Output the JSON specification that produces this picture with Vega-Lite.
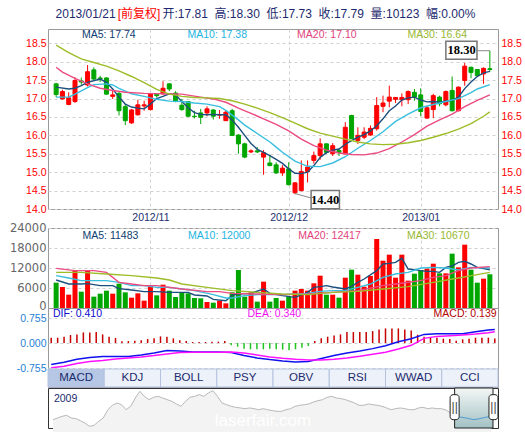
{
"$schema": "https://vega.github.io/schema/vega-lite/v6.json",
"background": "white",
"padding": {"left": 8, "top": 7, "right": 0, "bottom": 0},
"spacing": 0,
"bounds": "flush",
"resolve": {"scale": {"color": "independent"}},
"config": {
  "font": "Liberation Sans, Noto Sans CJK SC",
  "view": {"stroke": "#999", "strokeWidth": 1},
  "axis": {"labelFont": "Liberation Sans", "ticks": false, "domain": false, "gridColor": "#d0d0d0", "gridDash": [3, 3], "labelFontSize": 10.5}
},
"datasets": {
  "k": [
    {"i":0,"d":"2012-10-11","o":17.40,"h":17.43,"l":17.04,"c":17.11,"v":7600,"m":0.16},
    {"i":1,"d":"2012-10-12","o":16.99,"h":17.24,"l":16.97,"c":17.19,"v":6300,"m":0.16},
    {"i":2,"d":"2012-10-15","o":16.84,"h":17.17,"l":16.82,"c":17.02,"v":4000,"m":0.19},
    {"i":3,"d":"2012-10-16","o":16.92,"h":17.58,"l":16.88,"c":17.49,"v":11400,"m":0.24},
    {"i":4,"d":"2012-10-17","o":17.48,"h":17.57,"l":17.38,"c":17.45,"v":4900,"m":0.26},
    {"i":5,"d":"2012-10-18","o":17.37,"h":17.91,"l":17.33,"c":17.73,"v":11200,"m":0.32},
    {"i":6,"d":"2012-10-19","o":17.78,"h":17.85,"l":17.50,"c":17.53,"v":3400,"m":0.32},
    {"i":7,"d":"2012-10-22","o":17.56,"h":17.62,"l":17.45,"c":17.54,"v":4300,"m":0.33},
    {"i":8,"d":"2012-10-23","o":17.56,"h":17.58,"l":17.11,"c":17.12,"v":5200,"m":0.26},
    {"i":9,"d":"2012-10-24","o":17.06,"h":17.23,"l":16.99,"c":17.10,"v":4300,"m":0.19},
    {"i":10,"d":"2012-10-25","o":17.14,"h":17.18,"l":16.54,"c":16.67,"v":7300,"m":0.15},
    {"i":11,"d":"2012-10-26","o":16.78,"h":16.85,"l":16.28,"c":16.40,"v":4700,"m":0.05},
    {"i":12,"d":"2012-10-29","o":16.34,"h":16.72,"l":16.31,"c":16.69,"v":3100,"m":0.06},
    {"i":13,"d":"2012-10-30","o":16.56,"h":16.97,"l":16.54,"c":16.83,"v":4400,"m":0.07},
    {"i":14,"d":"2012-10-31","o":16.80,"h":16.94,"l":16.67,"c":16.83,"v":2200,"m":0.08},
    {"i":15,"d":"2012-11-01","o":16.70,"h":17.15,"l":16.68,"c":17.14,"v":6600,"m":0.12},
    {"i":16,"d":"2012-11-02","o":17.12,"h":17.15,"l":17.03,"c":17.08,"v":3800,"m":0.14},
    {"i":17,"d":"2012-11-05","o":17.13,"h":17.47,"l":17.10,"c":17.28,"v":7000,"m":0.20},
    {"i":18,"d":"2012-11-06","o":17.40,"h":17.42,"l":17.20,"c":17.26,"v":5200,"m":0.19},
    {"i":19,"d":"2012-11-07","o":17.15,"h":17.20,"l":16.90,"c":16.92,"v":3300,"m":0.14},
    {"i":20,"d":"2012-11-08","o":16.82,"h":16.99,"l":16.67,"c":16.70,"v":4700,"m":0.08},
    {"i":21,"d":"2012-11-09","o":16.92,"h":16.93,"l":16.50,"c":16.52,"v":4400,"m":0.06},
    {"i":22,"d":"2012-11-12","o":16.52,"h":16.67,"l":16.46,"c":16.51,"v":3000,"m":0.03},
    {"i":23,"d":"2012-11-13","o":16.61,"h":16.72,"l":16.31,"c":16.49,"v":2900,"m":0.03},
    {"i":24,"d":"2012-11-14","o":16.61,"h":16.79,"l":16.52,"c":16.72,"v":1800,"m":0.03},
    {"i":25,"d":"2012-11-15","o":16.69,"h":16.72,"l":16.43,"c":16.52,"v":1600,"m":0.04},
    {"i":26,"d":"2012-11-16","o":16.55,"h":16.69,"l":16.45,"c":16.56,"v":2200,"m":0.04},
    {"i":27,"d":"2012-11-19","o":16.40,"h":16.67,"l":16.39,"c":16.63,"v":1400,"m":0.06},
    {"i":28,"d":"2012-11-20","o":16.67,"h":16.72,"l":15.98,"c":16.00,"v":4700,"m":-0.07},
    {"i":29,"d":"2012-11-21","o":16.01,"h":16.03,"l":15.50,"c":15.77,"v":11400,"m":-0.11},
    {"i":30,"d":"2012-11-22","o":15.77,"h":15.80,"l":15.38,"c":15.41,"v":3400,"m":-0.17},
    {"i":31,"d":"2012-11-23","o":15.55,"h":15.62,"l":15.52,"c":15.58,"v":4700,"m":-0.19},
    {"i":32,"d":"2012-11-26","o":15.58,"h":15.68,"l":15.52,"c":15.55,"v":1900,"m":-0.19},
    {"i":33,"d":"2012-11-27","o":15.41,"h":15.60,"l":14.93,"c":15.53,"v":7900,"m":-0.19},
    {"i":34,"d":"2012-11-28","o":15.25,"h":15.47,"l":15.16,"c":15.18,"v":1900,"m":-0.17},
    {"i":35,"d":"2012-11-29","o":15.20,"h":15.27,"l":14.95,"c":14.98,"v":3000,"m":-0.19},
    {"i":36,"d":"2012-11-30","o":14.98,"h":15.19,"l":14.90,"c":15.11,"v":2200,"m":-0.20},
    {"i":37,"d":"2012-12-03","o":15.09,"h":15.27,"l":14.64,"c":14.66,"v":3400,"m":-0.22},
    {"i":38,"d":"2012-12-04","o":14.44,"h":14.73,"l":14.40,"c":14.71,"v":5200,"m":-0.19},
    {"i":39,"d":"2012-12-05","o":14.50,"h":15.32,"l":14.48,"c":15.02,"v":5700,"m":-0.14},
    {"i":40,"d":"2012-12-06","o":15.02,"h":15.32,"l":14.72,"c":15.14,"v":5200,"m":-0.09},
    {"i":41,"d":"2012-12-07","o":15.32,"h":15.56,"l":15.23,"c":15.45,"v":7400,"m":0.06},
    {"i":42,"d":"2012-12-10","o":15.45,"h":15.92,"l":15.34,"c":15.77,"v":9700,"m":0.14},
    {"i":43,"d":"2012-12-11","o":15.77,"h":15.78,"l":15.50,"c":15.54,"v":4000,"m":0.19},
    {"i":44,"d":"2012-12-12","o":15.50,"h":15.79,"l":15.44,"c":15.72,"v":4000,"m":0.23},
    {"i":45,"d":"2012-12-13","o":15.59,"h":15.63,"l":15.44,"c":15.54,"v":3100,"m":0.26},
    {"i":46,"d":"2012-12-14","o":15.50,"h":16.36,"l":15.48,"c":16.22,"v":9100,"m":0.33},
    {"i":47,"d":"2012-12-17","o":16.54,"h":16.56,"l":15.90,"c":15.91,"v":11500,"m":0.33},
    {"i":48,"d":"2012-12-18","o":15.86,"h":16.22,"l":15.77,"c":16.00,"v":10000,"m":0.33},
    {"i":49,"d":"2012-12-19","o":15.95,"h":16.22,"l":15.90,"c":16.09,"v":6400,"m":0.33},
    {"i":50,"d":"2012-12-20","o":16.01,"h":16.27,"l":15.99,"c":16.19,"v":9600,"m":0.36},
    {"i":51,"d":"2012-12-21","o":16.18,"h":17.04,"l":16.13,"c":16.81,"v":20700,"m":0.41},
    {"i":52,"d":"2012-12-24","o":16.79,"h":17.08,"l":16.63,"c":16.88,"v":14200,"m":0.44},
    {"i":53,"d":"2012-12-25","o":16.93,"h":17.35,"l":16.76,"c":17.04,"v":16000,"m":0.44},
    {"i":54,"d":"2012-12-26","o":16.98,"h":17.04,"l":16.88,"c":17.03,"v":9100,"m":0.44},
    {"i":55,"d":"2012-12-27","o":16.97,"h":17.14,"l":16.79,"c":17.03,"v":16000,"m":0.41},
    {"i":56,"d":"2012-12-28","o":16.97,"h":17.22,"l":16.85,"c":17.19,"v":8200,"m":0.38},
    {"i":57,"d":"2012-12-31","o":17.17,"h":17.26,"l":16.94,"c":17.04,"v":10300,"m":0.25},
    {"i":58,"d":"2013-01-04","o":17.10,"h":17.28,"l":16.52,"c":16.65,"v":11400,"m":0.19},
    {"i":59,"d":"2013-01-07","o":16.47,"h":16.81,"l":16.45,"c":16.75,"v":11800,"m":0.16},
    {"i":60,"d":"2013-01-08","o":16.70,"h":17.13,"l":16.47,"c":17.08,"v":13300,"m":0.16},
    {"i":61,"d":"2013-01-09","o":17.04,"h":17.08,"l":16.79,"c":16.86,"v":10400,"m":0.13},
    {"i":62,"d":"2013-01-10","o":16.83,"h":17.22,"l":16.79,"c":17.19,"v":10400,"m":0.12},
    {"i":63,"d":"2013-01-11","o":17.22,"h":17.60,"l":16.65,"c":16.67,"v":16300,"m":0.07},
    {"i":64,"d":"2013-01-14","o":16.67,"h":17.33,"l":16.65,"c":17.31,"v":12200,"m":0.11},
    {"i":65,"d":"2013-01-15","o":17.49,"h":17.97,"l":17.35,"c":17.88,"v":19000,"m":0.13},
    {"i":66,"d":"2013-01-16","o":17.85,"h":17.87,"l":17.55,"c":17.71,"v":11500,"m":0.16},
    {"i":67,"d":"2013-01-17","o":17.79,"h":17.80,"l":17.60,"c":17.62,"v":7600,"m":0.16},
    {"i":68,"d":"2013-01-18","o":17.67,"h":17.85,"l":17.40,"c":17.82,"v":8800,"m":0.16},
    {"i":69,"d":"2013-01-21","o":17.81,"h":18.30,"l":17.73,"c":17.79,"v":10123,"m":0.139}
  ],
  "pma": [
    {"i":0,"s":"MA5","v":17.31},{"i":2,"s":"MA5","v":17.26},{"i":3,"s":"MA5","v":17.28},{"i":4,"s":"MA5","v":17.35},{"i":5,"s":"MA5","v":17.44},{"i":7,"s":"MA5","v":17.53},{"i":8,"s":"MA5","v":17.44},{"i":9,"s":"MA5","v":17.26},{"i":10,"s":"MA5","v":17.04},{"i":11,"s":"MA5","v":16.85},{"i":12,"s":"MA5","v":16.77},{"i":13,"s":"MA5","v":16.74},{"i":14,"s":"MA5","v":16.72},{"i":15,"s":"MA5","v":16.85},{"i":16,"s":"MA5","v":17.0},{"i":17,"s":"MA5","v":17.06},{"i":18,"s":"MA5","v":17.13},{"i":19,"s":"MA5","v":17.10},{"i":20,"s":"MA5","v":16.92},{"i":21,"s":"MA5","v":16.75},{"i":22,"s":"MA5","v":16.62},{"i":23,"s":"MA5","v":16.57},{"i":24,"s":"MA5","v":16.56},{"i":25,"s":"MA5","v":16.57},{"i":26,"s":"MA5","v":16.56},{"i":27,"s":"MA5","v":16.56},{"i":28,"s":"MA5","v":16.42},{"i":29,"s":"MA5","v":16.22},{"i":30,"s":"MA5","v":16.0},{"i":31,"s":"MA5","v":15.78},{"i":32,"s":"MA5","v":15.62},{"i":33,"s":"MA5","v":15.54},{"i":34,"s":"MA5","v":15.45},{"i":35,"s":"MA5","v":15.35},{"i":36,"s":"MA5","v":15.24},{"i":37,"s":"MA5","v":15.09},{"i":38,"s":"MA5","v":14.97},{"i":39,"s":"MA5","v":14.96},{"i":40,"s":"MA5","v":15.0},{"i":41,"s":"MA5","v":15.18},{"i":42,"s":"MA5","v":15.40},{"i":43,"s":"MA5","v":15.53},{"i":44,"s":"MA5","v":15.60},{"i":45,"s":"MA5","v":15.63},{"i":46,"s":"MA5","v":15.76},{"i":47,"s":"MA5","v":15.86},{"i":48,"s":"MA5","v":15.95},{"i":49,"s":"MA5","v":16.02},{"i":50,"s":"MA5","v":16.12},{"i":51,"s":"MA5","v":16.26},{"i":52,"s":"MA5","v":16.45},{"i":53,"s":"MA5","v":16.67},{"i":54,"s":"MA5","v":16.80},{"i":55,"s":"MA5","v":16.96},{"i":56,"s":"MA5","v":17.02},{"i":57,"s":"MA5","v":17.04},{"i":58,"s":"MA5","v":16.96},{"i":59,"s":"MA5","v":16.91},{"i":60,"s":"MA5","v":16.92},{"i":61,"s":"MA5","v":16.90},{"i":62,"s":"MA5","v":16.93},{"i":63,"s":"MA5","v":16.95},{"i":64,"s":"MA5","v":17.04},{"i":65,"s":"MA5","v":17.27},{"i":66,"s":"MA5","v":17.45},{"i":67,"s":"MA5","v":17.6},{"i":68,"s":"MA5","v":17.7},{"i":69,"s":"MA5","v":17.74},
    {"i":0,"s":"MA10","v":17.04},{"i":2,"s":"MA10","v":17.04},{"i":3,"s":"MA10","v":17.12},{"i":5,"s":"MA10","v":17.30},{"i":6,"s":"MA10","v":17.38},{"i":8,"s":"MA10","v":17.40},{"i":9,"s":"MA10","v":17.37},{"i":10,"s":"MA10","v":17.28},{"i":11,"s":"MA10","v":17.20},{"i":12,"s":"MA10","v":17.13},{"i":14,"s":"MA10","v":17.06},{"i":16,"s":"MA10","v":16.98},{"i":18,"s":"MA10","v":16.93},{"i":20,"s":"MA10","v":16.92},{"i":22,"s":"MA10","v":16.88},{"i":24,"s":"MA10","v":16.85},{"i":26,"s":"MA10","v":16.78},{"i":27,"s":"MA10","v":16.68},{"i":28,"s":"MA10","v":16.55},{"i":29,"s":"MA10","v":16.42},{"i":30,"s":"MA10","v":16.28},{"i":32,"s":"MA10","v":16.05},{"i":34,"s":"MA10","v":15.82},{"i":35,"s":"MA10","v":15.68},{"i":36,"s":"MA10","v":15.54},{"i":38,"s":"MA10","v":15.3},{"i":40,"s":"MA10","v":15.16},{"i":42,"s":"MA10","v":15.15},{"i":44,"s":"MA10","v":15.25},{"i":46,"s":"MA10","v":15.42},{"i":48,"s":"MA10","v":15.65},{"i":50,"s":"MA10","v":15.86},{"i":52,"s":"MA10","v":16.1},{"i":54,"s":"MA10","v":16.38},{"i":56,"s":"MA10","v":16.58},{"i":58,"s":"MA10","v":16.75},{"i":60,"s":"MA10","v":16.84},{"i":62,"s":"MA10","v":16.92},{"i":64,"s":"MA10","v":17.0},{"i":66,"s":"MA10","v":17.16},{"i":67,"s":"MA10","v":17.26},{"i":69,"s":"MA10","v":17.38},
    {"i":0,"s":"MA20","v":17.85},{"i":1,"s":"MA20","v":17.72},{"i":3,"s":"MA20","v":17.55},{"i":5,"s":"MA20","v":17.40},{"i":7,"s":"MA20","v":17.28},{"i":9,"s":"MA20","v":17.22},{"i":11,"s":"MA20","v":17.17},{"i":14,"s":"MA20","v":17.14},{"i":17,"s":"MA20","v":17.13},{"i":20,"s":"MA20","v":17.12},{"i":23,"s":"MA20","v":17.04},{"i":25,"s":"MA20","v":16.99},{"i":27,"s":"MA20","v":16.9},{"i":29,"s":"MA20","v":16.74},{"i":31,"s":"MA20","v":16.6},{"i":33,"s":"MA20","v":16.45},{"i":35,"s":"MA20","v":16.3},{"i":37,"s":"MA20","v":16.12},{"i":39,"s":"MA20","v":15.9},{"i":41,"s":"MA20","v":15.72},{"i":43,"s":"MA20","v":15.6},{"i":45,"s":"MA20","v":15.52},{"i":47,"s":"MA20","v":15.48},{"i":49,"s":"MA20","v":15.47},{"i":51,"s":"MA20","v":15.52},{"i":53,"s":"MA20","v":15.64},{"i":55,"s":"MA20","v":15.82},{"i":57,"s":"MA20","v":16.02},{"i":59,"s":"MA20","v":16.25},{"i":61,"s":"MA20","v":16.42},{"i":63,"s":"MA20","v":16.58},{"i":65,"s":"MA20","v":16.78},{"i":67,"s":"MA20","v":16.95},{"i":69,"s":"MA20","v":17.10},
    {"i":0,"s":"MA30","v":18.45},{"i":2,"s":"MA30","v":18.25},{"i":4,"s":"MA30","v":18.08},{"i":6,"s":"MA30","v":17.98},{"i":8,"s":"MA30","v":17.88},{"i":10,"s":"MA30","v":17.75},{"i":12,"s":"MA30","v":17.6},{"i":14,"s":"MA30","v":17.43},{"i":16,"s":"MA30","v":17.25},{"i":18,"s":"MA30","v":17.12},{"i":20,"s":"MA30","v":17.06},{"i":22,"s":"MA30","v":17.03},{"i":24,"s":"MA30","v":17.02},{"i":26,"s":"MA30","v":17.0},{"i":28,"s":"MA30","v":16.94},{"i":30,"s":"MA30","v":16.85},{"i":32,"s":"MA30","v":16.74},{"i":34,"s":"MA30","v":16.62},{"i":36,"s":"MA30","v":16.48},{"i":38,"s":"MA30","v":16.33},{"i":40,"s":"MA30","v":16.18},{"i":42,"s":"MA30","v":16.06},{"i":44,"s":"MA30","v":15.98},{"i":46,"s":"MA30","v":15.9},{"i":48,"s":"MA30","v":15.82},{"i":50,"s":"MA30","v":15.77},{"i":52,"s":"MA30","v":15.75},{"i":54,"s":"MA30","v":15.76},{"i":56,"s":"MA30","v":15.8},{"i":58,"s":"MA30","v":15.86},{"i":60,"s":"MA30","v":15.95},{"i":62,"s":"MA30","v":16.05},{"i":64,"s":"MA30","v":16.17},{"i":66,"s":"MA30","v":16.32},{"i":68,"s":"MA30","v":16.52},{"i":69,"s":"MA30","v":16.64}
  ],
  "vma": [
    {"i":0,"s":"MA5","v":8400},{"i":2,"s":"MA5","v":7200},{"i":4,"s":"MA5","v":7200},{"i":5,"s":"MA5","v":7300},{"i":7,"s":"MA5","v":6700},{"i":9,"s":"MA5","v":6700},{"i":10,"s":"MA5","v":5800},{"i":12,"s":"MA5","v":5400},{"i":14,"s":"MA5","v":4900},{"i":16,"s":"MA5","v":4900},{"i":18,"s":"MA5","v":4700},{"i":21,"s":"MA5","v":4700},{"i":22,"s":"MA5","v":3900},{"i":24,"s":"MA5","v":3600},{"i":25,"s":"MA5","v":2600},{"i":27,"s":"MA5","v":2200},{"i":28,"s":"MA5","v":3800},{"i":29,"s":"MA5","v":4200},{"i":31,"s":"MA5","v":4400},{"i":33,"s":"MA5","v":5700},{"i":34,"s":"MA5","v":4400},{"i":36,"s":"MA5","v":3700},{"i":38,"s":"MA5","v":3200},{"i":40,"s":"MA5","v":4700},{"i":41,"s":"MA5","v":6200},{"i":42,"s":"MA5","v":6400},{"i":43,"s":"MA5","v":6700},{"i":44,"s":"MA5","v":6300},{"i":45,"s":"MA5","v":6000},{"i":46,"s":"MA5","v":5700},{"i":47,"s":"MA5","v":6500},{"i":48,"s":"MA5","v":7700},{"i":49,"s":"MA5","v":8700},{"i":51,"s":"MA5","v":11200},{"i":52,"s":"MA5","v":13200},{"i":53,"s":"MA5","v":13400},{"i":54,"s":"MA5","v":13700},{"i":55,"s":"MA5","v":14900},{"i":56,"s":"MA5","v":11700},{"i":57,"s":"MA5","v":11500},{"i":58,"s":"MA5","v":11200},{"i":59,"s":"MA5","v":11000},{"i":60,"s":"MA5","v":11000},{"i":61,"s":"MA5","v":10700},{"i":62,"s":"MA5","v":12200},{"i":63,"s":"MA5","v":12600},{"i":64,"s":"MA5","v":13700},{"i":65,"s":"MA5","v":14000},{"i":66,"s":"MA5","v":13200},{"i":67,"s":"MA5","v":12200},{"i":69,"s":"MA5","v":11483},
    {"i":0,"s":"MA10","v":9700},{"i":2,"s":"MA10","v":9000},{"i":4,"s":"MA10","v":8200},{"i":8,"s":"MA10","v":8200},{"i":10,"s":"MA10","v":7700},{"i":12,"s":"MA10","v":6700},{"i":14,"s":"MA10","v":6700},{"i":16,"s":"MA10","v":6200},{"i":18,"s":"MA10","v":6200},{"i":20,"s":"MA10","v":5700},{"i":22,"s":"MA10","v":5200},{"i":25,"s":"MA10","v":4000},{"i":27,"s":"MA10","v":3000},{"i":28,"s":"MA10","v":3000},{"i":30,"s":"MA10","v":3700},{"i":32,"s":"MA10","v":4000},{"i":36,"s":"MA10","v":4000},{"i":38,"s":"MA10","v":4200},{"i":40,"s":"MA10","v":4400},{"i":42,"s":"MA10","v":5000},{"i":44,"s":"MA10","v":5200},{"i":46,"s":"MA10","v":5200},{"i":48,"s":"MA10","v":6200},{"i":50,"s":"MA10","v":7200},{"i":52,"s":"MA10","v":9200},{"i":54,"s":"MA10","v":10200},{"i":56,"s":"MA10","v":10700},{"i":58,"s":"MA10","v":12000},{"i":60,"s":"MA10","v":12200},{"i":62,"s":"MA10","v":12000},{"i":64,"s":"MA10","v":11400},{"i":66,"s":"MA10","v":12200},{"i":69,"s":"MA10","v":12000},
    {"i":0,"s":"MA20","v":11900},{"i":3,"s":"MA20","v":11200},{"i":6,"s":"MA20","v":11200},{"i":8,"s":"MA20","v":10700},{"i":10,"s":"MA20","v":7700},{"i":12,"s":"MA20","v":7200},{"i":14,"s":"MA20","v":6700},{"i":16,"s":"MA20","v":6700},{"i":20,"s":"MA20","v":5700},{"i":24,"s":"MA20","v":4900},{"i":26,"s":"MA20","v":4900},{"i":28,"s":"MA20","v":4400},{"i":32,"s":"MA20","v":4200},{"i":36,"s":"MA20","v":4000},{"i":40,"s":"MA20","v":4200},{"i":44,"s":"MA20","v":4700},{"i":48,"s":"MA20","v":5200},{"i":52,"s":"MA20","v":6700},{"i":54,"s":"MA20","v":7200},{"i":58,"s":"MA20","v":8200},{"i":60,"s":"MA20","v":9200},{"i":62,"s":"MA20","v":9700},{"i":64,"s":"MA20","v":11200},{"i":66,"s":"MA20","v":12000},{"i":69,"s":"MA20","v":12417},
    {"i":0,"s":"MA30","v":10700},{"i":4,"s":"MA30","v":10700},{"i":8,"s":"MA30","v":10200},{"i":12,"s":"MA30","v":9700},{"i":16,"s":"MA30","v":9000},{"i":18,"s":"MA30","v":8400},{"i":20,"s":"MA30","v":7200},{"i":24,"s":"MA30","v":6200},{"i":28,"s":"MA30","v":5200},{"i":32,"s":"MA30","v":4700},{"i":36,"s":"MA30","v":4200},{"i":40,"s":"MA30","v":4000},{"i":44,"s":"MA30","v":4700},{"i":48,"s":"MA30","v":5000},{"i":52,"s":"MA30","v":5700},{"i":56,"s":"MA30","v":6400},{"i":60,"s":"MA30","v":7700},{"i":64,"s":"MA30","v":9000},{"i":67,"s":"MA30","v":10000},{"i":69,"s":"MA30","v":10670}
  ],
  "mac": [
    {"i":0,"s":"DIF","v":-0.65},{"i":2,"s":"DIF","v":-0.58},{"i":4,"s":"DIF","v":-0.49},{"i":6,"s":"DIF","v":-0.44},{"i":8,"s":"DIF","v":-0.41},{"i":10,"s":"DIF","v":-0.41},{"i":12,"s":"DIF","v":-0.41},{"i":14,"s":"DIF","v":-0.36},{"i":16,"s":"DIF","v":-0.30},{"i":18,"s":"DIF","v":-0.23},{"i":20,"s":"DIF","v":-0.24},{"i":22,"s":"DIF","v":-0.27},{"i":24,"s":"DIF","v":-0.27},{"i":26,"s":"DIF","v":-0.27},{"i":28,"s":"DIF","v":-0.29},{"i":30,"s":"DIF","v":-0.38},{"i":32,"s":"DIF","v":-0.45},{"i":34,"s":"DIF","v":-0.50},{"i":36,"s":"DIF","v":-0.54},{"i":38,"s":"DIF","v":-0.57},{"i":40,"s":"DIF","v":-0.56},{"i":42,"s":"DIF","v":-0.47},{"i":44,"s":"DIF","v":-0.38},{"i":46,"s":"DIF","v":-0.30},{"i":48,"s":"DIF","v":-0.24},{"i":50,"s":"DIF","v":-0.17},{"i":52,"s":"DIF","v":-0.08},{"i":54,"s":"DIF","v":0.04},{"i":56,"s":"DIF","v":0.13},{"i":58,"s":"DIF","v":0.26},{"i":60,"s":"DIF","v":0.28},{"i":62,"s":"DIF","v":0.28},{"i":64,"s":"DIF","v":0.28},{"i":66,"s":"DIF","v":0.34},{"i":68,"s":"DIF","v":0.39},{"i":69,"s":"DIF","v":0.41},
    {"i":0,"s":"DEA","v":-0.75},{"i":2,"s":"DEA","v":-0.70},{"i":4,"s":"DEA","v":-0.62},{"i":6,"s":"DEA","v":-0.56},{"i":8,"s":"DEA","v":-0.53},{"i":10,"s":"DEA","v":-0.48},{"i":12,"s":"DEA","v":-0.45},{"i":14,"s":"DEA","v":-0.42},{"i":16,"s":"DEA","v":-0.38},{"i":18,"s":"DEA","v":-0.33},{"i":20,"s":"DEA","v":-0.29},{"i":22,"s":"DEA","v":-0.28},{"i":24,"s":"DEA","v":-0.28},{"i":26,"s":"DEA","v":-0.28},{"i":28,"s":"DEA","v":-0.27},{"i":30,"s":"DEA","v":-0.30},{"i":32,"s":"DEA","v":-0.36},{"i":34,"s":"DEA","v":-0.42},{"i":36,"s":"DEA","v":-0.46},{"i":38,"s":"DEA","v":-0.49},{"i":40,"s":"DEA","v":-0.51},{"i":42,"s":"DEA","v":-0.51},{"i":44,"s":"DEA","v":-0.49},{"i":46,"s":"DEA","v":-0.45},{"i":48,"s":"DEA","v":-0.40},{"i":50,"s":"DEA","v":-0.34},{"i":52,"s":"DEA","v":-0.28},{"i":54,"s":"DEA","v":-0.18},{"i":56,"s":"DEA","v":-0.07},{"i":58,"s":"DEA","v":0.14},{"i":60,"s":"DEA","v":0.20},{"i":62,"s":"DEA","v":0.22},{"i":64,"s":"DEA","v":0.24},{"i":66,"s":"DEA","v":0.27},{"i":68,"s":"DEA","v":0.31},{"i":69,"s":"DEA","v":0.34}
  ],
  "tabs": [{"tab":"MACD"},{"tab":"KDJ"},{"tab":"BOLL"},{"tab":"PSY"},{"tab":"OBV"},{"tab":"RSI"},{"tab":"WWAD"},{"tab":"CCI"}],
  "nav": [
    {"n":0,"p":14.6},{"n":1,"p":16.2},{"n":2,"p":17.8},{"n":3,"p":18.8},{"n":4,"p":16.2},{"n":5,"p":15.6},{"n":6,"p":13.6},{"n":7,"p":11.3},{"n":8,"p":8.1},{"n":9,"p":9.1},{"n":10,"p":13.0},{"n":11,"p":16.2},{"n":12,"p":24.3},{"n":13,"p":28.6},{"n":14,"p":30.8},{"n":15,"p":29.2},{"n":16,"p":24.3},{"n":17,"p":27.6},{"n":18,"p":35.7},{"n":19,"p":42.2},{"n":20,"p":37.3},{"n":21,"p":34.1},{"n":22,"p":36.4},{"n":23,"p":37.3},{"n":24,"p":35.7},{"n":25,"p":34.1},{"n":26,"p":32.5},{"n":27,"p":29.9},{"n":28,"p":27.6},{"n":29,"p":32.5},{"n":30,"p":36.4},{"n":31,"p":37.3},{"n":32,"p":39.0},{"n":33,"p":37.3},{"n":34,"p":40.6},{"n":35,"p":42.9},{"n":36,"p":37.3},{"n":37,"p":30.8},{"n":38,"p":29.2},{"n":39,"p":27.6},{"n":40,"p":26.6},{"n":41,"p":26.0},{"n":42,"p":25.3},{"n":43,"p":26.0},{"n":44,"p":25.3},{"n":45,"p":24.3},{"n":46,"p":25.3},{"n":47,"p":24.3},{"n":48,"p":23.4},{"n":49,"p":22.7},{"n":50,"p":22.7},{"n":51,"p":24.3},{"n":52,"p":25.3},{"n":53,"p":27.6},{"n":54,"p":28.6},{"n":55,"p":29.2},{"n":56,"p":29.9},{"n":57,"p":31.8},{"n":58,"p":33.1},{"n":59,"p":34.1},{"n":60,"p":36.4},{"n":61,"p":37.3},{"n":62,"p":35.7},{"n":63,"p":35.1},{"n":64,"p":34.1},{"n":65,"p":32.5},{"n":66,"p":30.8},{"n":67,"p":28.6},{"n":68,"p":28.6},{"n":69,"p":29.9},{"n":70,"p":29.2},{"n":71,"p":28.6},{"n":72,"p":27.6},{"n":73,"p":26.0},{"n":74,"p":24.3},{"n":75,"p":25.3},{"n":76,"p":26.0},{"n":77,"p":25.3},{"n":78,"p":24.3},{"n":79,"p":24.3},{"n":80,"p":26.0},{"n":81,"p":26.6},{"n":82,"p":25.3},{"n":83,"p":26.0},{"n":84,"p":25.3},{"n":85,"p":25.3},{"n":86,"p":24.0},{"n":87,"p":21.1},{"n":88,"p":17.8},{"n":89,"p":17.2},{"n":90,"p":16.5},{"n":91,"p":15.6},{"n":92,"p":14.6},{"n":93,"p":15.2},{"n":94,"p":16.2},{"n":95,"p":17.2},{"n":96,"p":17.8}
  ]
},
"vconcat": [
  {
    "width": 450, "height": 180,
    "resolve": {"axis": {"x": "independent", "y": "independent"}},
    "layer": [
      {
        "data": {"name": "k"},
        "mark": {"type": "rule", "strokeWidth": 1},
        "encoding": {
          "x": {"field": "i", "type": "quantitative", "scale": {"domain": [-0.5, 69.5], "nice": false, "zero": false},
                "axis": {"title": null, "values": [15, 37, 58], "labelExpr": "datum.value == 15 ? '2012/11' : (datum.value == 37 ? '2012/12' : '2013/01')", "grid": true, "labelColor": "#1b2f6e", "labelFontSize": 10.5, "labelPadding": 3}},
          "y": {"field": "l", "type": "quantitative", "scale": {"domain": [14, 18.89], "nice": false, "zero": false},
                "axis": {"title": null, "orient": "right", "values": [14, 14.5, 15, 15.5, 16, 16.5, 17, 17.5, 18, 18.5], "format": ".1f", "grid": false, "labelColor": "#ff0000", "labelFontSize": 10.5, "labelPadding": 3}},
          "y2": {"field": "h"},
          "color": {"condition": {"test": "datum.c >= datum.o", "value": "#ff0000"}, "value": "#00a600"}
        }
      },
      {
        "data": {"name": "k"},
        "mark": {"type": "bar", "orient": "vertical", "size": 4, "strokeWidth": 1},
        "encoding": {
          "x": {"field": "i", "type": "quantitative", "axis": null},
          "y": {"field": "o", "type": "quantitative",
                "axis": {"title": null, "orient": "left", "values": [14, 14.5, 15, 15.5, 16, 16.5, 17, 17.5, 18, 18.5], "format": ".1f", "grid": true, "labelColor": "#ff0000", "labelFontSize": 10.5, "labelPadding": 2}},
          "y2": {"field": "c"},
          "color": {"condition": {"test": "datum.c >= datum.o", "value": "#ff0000"}, "value": "#00a600"},
          "stroke": {"condition": {"test": "datum.c >= datum.o", "value": "#ff0000"}, "value": "#00a600"}
        }
      },
      {
        "data": {"name": "pma"},
        "mark": {"type": "line", "strokeWidth": 1.4},
        "encoding": {
          "x": {"field": "i", "type": "quantitative", "axis": null},
          "y": {"field": "v", "type": "quantitative", "axis": null},
          "color": {"field": "s", "type": "nominal", "scale": {"domain": ["MA5", "MA10", "MA20", "MA30"], "range": ["#1b4f7d", "#38bfe0", "#ec4b82", "#9dbd28"]}, "legend": null}
        }
      },
      {
        "data": {"values": [{}]},
        "mark": {"type": "rect", "fill": "white", "stroke": "#777", "strokeWidth": 1.5},
        "encoding": {"x": {"datum": 40.56, "type": "quantitative", "axis": null}, "x2": {"datum": 45.07}, "y": {"datum": 14.5, "type": "quantitative", "axis": null}, "y2": {"datum": 14.01}}
      },
      {
        "data": {"values": [{}]},
        "mark": {"type": "rule", "color": "#888", "strokeWidth": 1},
        "encoding": {"x": {"datum": 38, "type": "quantitative", "axis": null}, "x2": {"datum": 40.56}, "y": {"datum": 14.42, "type": "quantitative", "axis": null}, "y2": {"datum": 14.3}}
      },
      {
        "data": {"values": [{}]},
        "mark": {"type": "text", "font": "Liberation Serif", "fontWeight": "bold", "fontSize": 12.5, "color": "black"},
        "encoding": {"x": {"datum": 42.8, "type": "quantitative", "axis": null}, "y": {"datum": 14.25, "type": "quantitative", "axis": null}, "text": {"value": "14.40"}}
      },
      {
        "data": {"values": [{}]},
        "mark": {"type": "rect", "fill": "white", "stroke": "#777", "strokeWidth": 1.5},
        "encoding": {"x": {"datum": 62.0, "type": "quantitative", "axis": null}, "x2": {"datum": 66.95}, "y": {"datum": 18.56, "type": "quantitative", "axis": null}, "y2": {"datum": 18.07}}
      },
      {
        "data": {"values": [{}]},
        "mark": {"type": "rule", "color": "#888", "strokeWidth": 1},
        "encoding": {"x": {"datum": 66.95, "type": "quantitative", "axis": null}, "x2": {"datum": 69}, "y": {"datum": 18.3, "type": "quantitative", "axis": null}}
      },
      {
        "data": {"values": [{}]},
        "mark": {"type": "text", "font": "Liberation Serif", "fontWeight": "bold", "fontSize": 12.5, "color": "black"},
        "encoding": {"x": {"datum": 64.5, "type": "quantitative", "axis": null}, "y": {"datum": 18.31, "type": "quantitative", "axis": null}, "text": {"value": "18.30"}}
      },
      {
        "data": {"values": [{}]},
        "mark": {"type": "text", "fontSize": 10.5, "color": "#0d3d73"},
        "encoding": {"x": {"datum": 8.37, "type": "quantitative", "axis": null}, "y": {"datum": 18.72, "type": "quantitative", "axis": null}, "text": {"value": "MA5: 17.74"}}
      },
      {
        "data": {"values": [{}]},
        "mark": {"type": "text", "fontSize": 10.5, "color": "#22b4e2"},
        "encoding": {"x": {"datum": 25.63, "type": "quantitative", "axis": null}, "y": {"datum": 18.72, "type": "quantitative", "axis": null}, "text": {"value": "MA10: 17.38"}}
      },
      {
        "data": {"values": [{}]},
        "mark": {"type": "text", "fontSize": 10.5, "color": "#e2427c"},
        "encoding": {"x": {"datum": 43.06, "type": "quantitative", "axis": null}, "y": {"datum": 18.72, "type": "quantitative", "axis": null}, "text": {"value": "MA20: 17.10"}}
      },
      {
        "data": {"values": [{}]},
        "mark": {"type": "text", "fontSize": 10.5, "color": "#98b830"},
        "encoding": {"x": {"datum": 60.63, "type": "quantitative", "axis": null}, "y": {"datum": 18.72, "type": "quantitative", "axis": null}, "text": {"value": "MA30: 16.64"}}
      },
      {
        "data": {"values": [{}]},
        "mark": {"type": "text", "align": "right", "fontSize": 12, "color": "#1c2a6e"},
        "encoding": {"x": {"datum": 9.46, "type": "quantitative", "axis": null}, "y": {"datum": 19.29, "type": "quantitative", "axis": null}, "text": {"value": "2013/01/21"}}
      },
      {
        "data": {"values": [{}]},
        "mark": {"type": "text", "align": "center", "fontSize": 12, "color": "#ff0000"},
        "encoding": {"x": {"datum": 13.19, "type": "quantitative", "axis": null}, "y": {"datum": 19.29, "type": "quantitative", "axis": null}, "text": {"value": "[前复权]"}}
      },
      {
        "data": {"values": [{}]},
        "mark": {"type": "text", "align": "left", "fontSize": 12, "color": "#1c2a6e"},
        "encoding": {"x": {"datum": 16.92, "type": "quantitative", "axis": null}, "y": {"datum": 19.29, "type": "quantitative", "axis": null}, "text": {"value": "开:17.81\u00a0\u00a0高:18.30\u00a0\u00a0低:17.73\u00a0\u00a0收:17.79\u00a0\u00a0量:10123\u00a0\u00a0幅:0.00%"}}
      }
    ]
  },
  {
    "width": 450, "height": 19,
    "view": {"stroke": null},
    "data": {"values": [{}]},
    "mark": {"type": "text", "text": ""},
    "encoding": {}
  },
  {
    "width": 450, "height": 80,
    "resolve": {"axis": {"x": "independent", "y": "independent"}},
    "layer": [
      {
        "data": {"name": "k"},
        "mark": {"type": "bar", "orient": "vertical", "size": 5},
        "encoding": {
          "x": {"field": "i", "type": "quantitative", "scale": {"domain": [-0.5, 69.5], "nice": false, "zero": false},
                "axis": {"title": null, "values": [15, 37, 58], "labels": false, "grid": true}},
          "y": {"field": "v", "type": "quantitative", "scale": {"domain": [0, 24000], "nice": false},
                "axis": {"title": null, "orient": "left", "values": [0, 6000, 12000, 18000, 24000], "format": "d", "labelColor": "#666", "labelFont": "DejaVu Sans", "labelFontSize": 11.5, "labelPadding": 2, "labelOffset": {"condition": {"test": "datum.value === 0", "value": -2}, "value": 0}, "grid": true}},
          "color": {"condition": {"test": "datum.c >= datum.o", "value": "#ff0000"}, "value": "#00a600"}
        }
      },
      {
        "data": {"name": "vma"},
        "mark": {"type": "line", "strokeWidth": 1.4},
        "encoding": {
          "x": {"field": "i", "type": "quantitative", "axis": null},
          "y": {"field": "v", "type": "quantitative", "axis": null},
          "color": {"field": "s", "type": "nominal", "scale": {"domain": ["MA5", "MA10", "MA20", "MA30"], "range": ["#1b4f7d", "#38bfe0", "#ec4b82", "#9dbd28"]}, "legend": null}
        }
      },
      {
        "data": {"values": [{}]},
        "mark": {"type": "text", "fontSize": 10.5, "color": "#0d3d73"},
        "encoding": {"x": {"datum": 8.63, "type": "quantitative", "axis": null}, "y": {"datum": 21690, "type": "quantitative", "axis": null}, "text": {"value": "MA5: 11483"}}
      },
      {
        "data": {"values": [{}]},
        "mark": {"type": "text", "fontSize": 10.5, "color": "#22b4e2"},
        "encoding": {"x": {"datum": 25.94, "type": "quantitative", "axis": null}, "y": {"datum": 21690, "type": "quantitative", "axis": null}, "text": {"value": "MA10: 12000"}}
      },
      {
        "data": {"values": [{}]},
        "mark": {"type": "text", "fontSize": 10.5, "color": "#e2427c"},
        "encoding": {"x": {"datum": 43.49, "type": "quantitative", "axis": null}, "y": {"datum": 21690, "type": "quantitative", "axis": null}, "text": {"value": "MA20: 12417"}}
      },
      {
        "data": {"values": [{}]},
        "mark": {"type": "text", "fontSize": 10.5, "color": "#98b830"},
        "encoding": {"x": {"datum": 60.79, "type": "quantitative", "axis": null}, "y": {"datum": 21690, "type": "quantitative", "axis": null}, "text": {"value": "MA30: 10670"}}
      }
    ]
  },
  {
    "width": 450, "height": 61,
    "resolve": {"axis": {"x": "independent", "y": "independent"}},
    "layer": [
      {
        "data": {"name": "k"},
        "mark": {"type": "rule", "strokeWidth": 1.5},
        "encoding": {
          "x": {"field": "i", "type": "quantitative", "scale": {"domain": [-0.5, 69.5], "nice": false, "zero": false}, "axis": null},
          "y": {"field": "m", "type": "quantitative", "scale": {"domain": [-0.785, 1.057], "nice": false, "zero": false},
                "axis": {"title": null, "orient": "left", "values": [-0.755, 0, 0.755], "labelExpr": "datum.value < 0 ? '-' + format(-datum.value, '.3f') : format(datum.value, '.3f')", "labelColor": "#1f7fd4", "labelFontSize": 10.5, "labelPadding": 2, "grid": true}},
          "y2": {"datum": 0},
          "color": {"condition": {"test": "datum.m >= 0", "value": "#c80000"}, "value": "#22c322"}
        }
      },
      {
        "data": {"name": "mac"},
        "mark": {"type": "line", "strokeWidth": 1.5},
        "encoding": {
          "x": {"field": "i", "type": "quantitative", "axis": null},
          "y": {"field": "v", "type": "quantitative", "axis": null},
          "color": {"field": "s", "type": "nominal", "scale": {"domain": ["DIF", "DEA"], "range": ["#1010f0", "#ff10ff"]}, "legend": null}
        }
      },
      {
        "data": {"values": [{}]},
        "mark": {"type": "text", "align": "left", "fontSize": 10.5, "color": "#0a0ad0"},
        "encoding": {"x": {"datum": 0.28, "type": "quantitative", "axis": null}, "y": {"datum": 0.876, "type": "quantitative", "axis": null}, "text": {"value": "DIF: 0.410"}}
      },
      {
        "data": {"values": [{}]},
        "mark": {"type": "text", "align": "center", "fontSize": 10.5, "color": "#f010f0"},
        "encoding": {"x": {"datum": 34.7, "type": "quantitative", "axis": null}, "y": {"datum": 0.876, "type": "quantitative", "axis": null}, "text": {"value": "DEA: 0.340"}}
      },
      {
        "data": {"values": [{}]},
        "mark": {"type": "text", "align": "right", "fontSize": 10.5, "color": "#b40000"},
        "encoding": {"x": {"datum": 69.28, "type": "quantitative", "axis": null}, "y": {"datum": 0.876, "type": "quantitative", "axis": null}, "text": {"value": "MACD: 0.139"}}
      }
    ]
  },
  {
    "width": 450, "height": 18,
    "data": {"name": "tabs"},
    "layer": [
      {
        "mark": {"type": "rect", "stroke": "#b3c2df", "strokeWidth": 1},
        "encoding": {
          "x": {"field": "tab", "type": "nominal", "sort": null, "scale": {"type": "band", "paddingInner": 0, "paddingOuter": 0}, "axis": null},
          "fill": {"condition": {"test": "datum.tab === 'MACD'", "value": "#b6c6e5"}, "value": "#edf1fa"}
        }
      },
      {
        "mark": {"type": "text", "fontSize": 11.5, "color": "#1a2a6c"},
        "encoding": {
          "x": {"field": "tab", "type": "nominal", "sort": null, "axis": null},
          "text": {"field": "tab"}
        }
      }
    ]
  },
  {
    "width": 450, "height": 1,
    "view": {"stroke": null},
    "data": {"values": [{}]},
    "mark": {"type": "text", "text": ""},
    "encoding": {}
  },
  {
    "width": 450, "height": 40,
    "view": {"stroke": "#333"},
    "layer": [
      {
        "data": {"name": "nav"},
        "mark": {"type": "area", "fill": "#f3f3f3"},
        "encoding": {
          "x": {"field": "n", "type": "quantitative", "scale": {"domain": [0, 96.3], "nice": false, "zero": false}, "axis": null},
          "y": {"field": "p", "type": "quantitative", "scale": {"domain": [6.45, 45.45], "nice": false, "zero": false}, "axis": null}
        }
      },
      {
        "data": {"name": "nav"},
        "mark": {"type": "line", "color": "#b8b8b8", "strokeWidth": 1},
        "encoding": {
          "x": {"field": "n", "type": "quantitative", "axis": null},
          "y": {"field": "p", "type": "quantitative", "axis": null}
        }
      },
      {
        "data": {"values": [{}]},
        "mark": {"type": "rect", "stroke": "#222", "strokeWidth": 1, "fill": {"gradient": "linear", "x1": 0, "y1": 0, "x2": 0, "y2": 1, "stops": [{"offset": 0, "color": "#f4f7f6"}, {"offset": 1, "color": "#a3c1c4"}]}},
        "encoding": {"x": {"datum": 87.9, "type": "quantitative", "axis": null}, "x2": {"datum": 96.3}, "y": {"datum": 6.45, "type": "quantitative", "axis": null}, "y2": {"datum": 45.45}}
      },
      {
        "data": {"name": "nav"},
        "transform": [{"filter": "datum.n >= 88"}],
        "mark": {"type": "line", "color": "#4d9ad0", "strokeWidth": 1},
        "encoding": {
          "x": {"field": "n", "type": "quantitative", "axis": null},
          "y": {"field": "p", "type": "quantitative", "axis": null}
        }
      },
      {
        "data": {"values": [{}]},
        "mark": {"type": "bar", "orient": "vertical", "size": 9, "fill": "white", "stroke": "#222", "strokeWidth": 1, "cornerRadius": 3},
        "encoding": {"x": {"datum": 87.9, "type": "quantitative", "axis": null}, "y": {"datum": 14.6, "type": "quantitative", "axis": null}, "y2": {"datum": 38.95}}
      },
      {
        "data": {"values": [{}]},
        "mark": {"type": "bar", "orient": "vertical", "size": 9, "fill": "white", "stroke": "#222", "strokeWidth": 1, "cornerRadius": 3},
        "encoding": {"x": {"datum": 96.4, "type": "quantitative", "axis": null}, "y": {"datum": 14.6, "type": "quantitative", "axis": null}, "y2": {"datum": 38.95}}
      },
      {
        "data": {"values": [{}]},
        "mark": {"type": "text", "fontSize": 12, "color": "#444"},
        "encoding": {"x": {"datum": 87.9, "type": "quantitative", "axis": null}, "y": {"datum": 26.8, "type": "quantitative", "axis": null}, "text": {"value": "||"}}
      },
      {
        "data": {"values": [{}]},
        "mark": {"type": "text", "fontSize": 12, "color": "#444"},
        "encoding": {"x": {"datum": 96.4, "type": "quantitative", "axis": null}, "y": {"datum": 26.8, "type": "quantitative", "axis": null}, "text": {"value": "||"}}
      },
      {
        "data": {"values": [{}]},
        "mark": {"type": "text", "align": "left", "fontSize": 10.5, "color": "#1a2a6c"},
        "encoding": {"x": {"datum": 0.2, "type": "quantitative", "axis": null}, "y": {"datum": 35.05, "type": "quantitative", "axis": null}, "text": {"value": "2009"}}
      },
      {
        "data": {"values": [{}]},
        "mark": {"type": "text", "align": "center", "fontSize": 17, "color": "white"},
        "encoding": {"x": {"datum": 45.95, "type": "quantitative", "axis": null}, "y": {"datum": 13.6, "type": "quantitative", "axis": null}, "text": {"value": "laserfair.com"}}
      }
    ]
  }
]
}
